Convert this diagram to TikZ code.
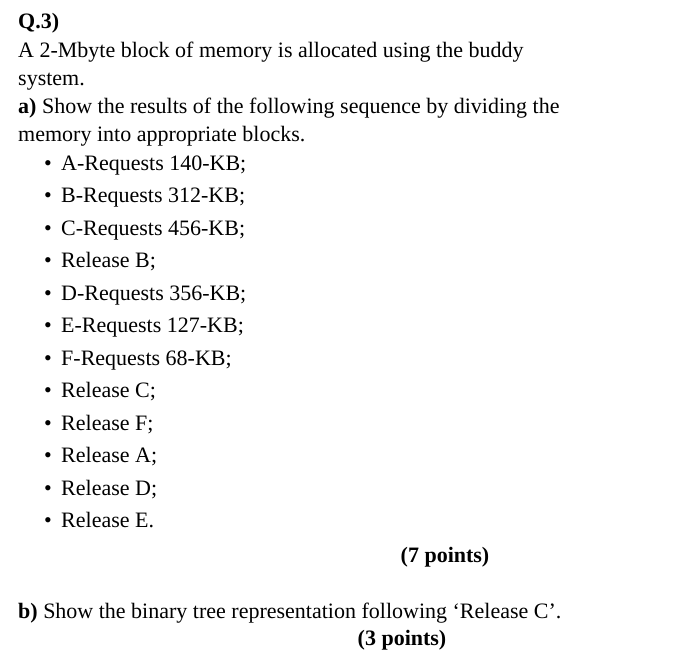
\documentclass[tikz,border=0pt]{standalone}
\usepackage{fontspec}
\setmainfont{Liberation Serif}
\begin{document}
\begin{tikzpicture}[x=1pt,y=1pt,
  txt/.style={anchor=base west,inner sep=0pt,font=\fontsize{22}{26}\selectfont},
  bul/.style={anchor=base,inner sep=0pt,font=\fontsize{22}{26}\selectfont}]
\useasboundingbox[fill=white] (0,0) rectangle (700,-654);
\node[txt] (q) at (18,-28) {\textbf{Q.3)}};
\node[txt] (l1) at (18,-57) {A 2-Mbyte block of memory is allocated using the buddy};
\node[txt] (l2) at (18,-85) {system.};
\node[txt] (l3) at (18,-113) {\textbf{a)} Show the results of the following sequence by dividing the};
\node[txt] (l4) at (18,-141) {memory into appropriate blocks.};
\foreach \t [count=\i] in {A-Requests 140-KB;,B-Requests 312-KB;,C-Requests 456-KB;,Release B;,D-Requests 356-KB;,E-Requests 127-KB;,F-Requests 68-KB;,Release C;,Release F;,Release A;,Release D;,Release E.}{
  \node[bul] (b\i) at (48,{-170-32.5*(\i-1)}) {•};
  \node[txt] (s\i) at (61,{-170-32.5*(\i-1)}) {\t};
}
\node[bul] (p7) at (445,-562) {\textbf{(7 points)}};
\node[txt] (lb) at (18,-618) {\textbf{b)} Show the binary tree representation following ‘Release C’.};
\node[bul] (p3) at (402,-645) {\textbf{(3 points)}};
\end{tikzpicture}
\end{document}
